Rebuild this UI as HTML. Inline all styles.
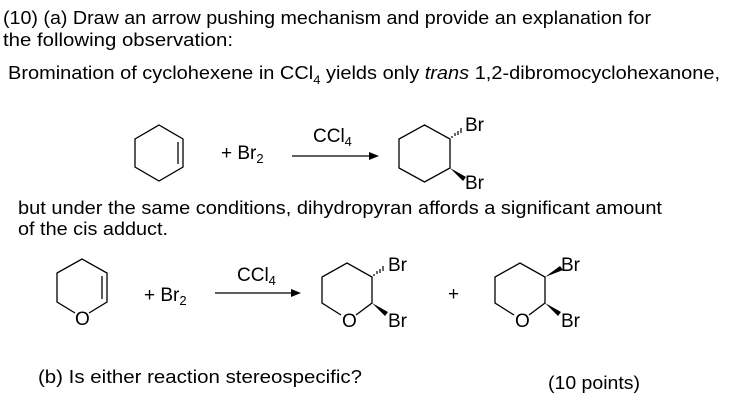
<!DOCTYPE html>
<html><head><meta charset="utf-8"><style>
body{margin:0;background:#fff;}
svg{display:block;}
text{font-family:"Liberation Sans",Arial,sans-serif;fill:#000;}
</style></head><body>
<svg width="735" height="407" viewBox="0 0 735 407" xmlns="http://www.w3.org/2000/svg">
<g font-size="18.5">
<text x="3" y="24" textLength="648" lengthAdjust="spacingAndGlyphs">(10) (a) Draw an arrow pushing mechanism and provide an explanation for</text>
<text x="3" y="46" textLength="230" lengthAdjust="spacingAndGlyphs">the following observation:</text>
<text x="8" y="79" textLength="712" lengthAdjust="spacingAndGlyphs">Bromination of cyclohexene in CCl<tspan font-size="12" dy="5">4</tspan><tspan dy="-5"> yields only </tspan><tspan font-style="italic">trans</tspan> 1,2-dibromocyclohexanone,</text>
<text x="18" y="214" textLength="644" lengthAdjust="spacingAndGlyphs">but under the same conditions, dihydropyran affords a significant amount</text>
<text x="18" y="235" textLength="150" lengthAdjust="spacingAndGlyphs">of the cis adduct.</text>
<text x="38" y="383" textLength="324" lengthAdjust="spacingAndGlyphs">(b)  Is either reaction stereospecific?</text>
<text x="548" y="389" textLength="92" lengthAdjust="spacingAndGlyphs">(10 points)</text>
</g>
<g stroke="#000" stroke-width="1.3" fill="none">
<polygon points="159,125 183,139 183,167 159,181 135,167 135,139"/>
<line x1="178" y1="142" x2="178" y2="164"/>
<line x1="292" y1="156" x2="370" y2="156"/>
<polygon points="424.5,125 450,139 450,168 424.5,182 399,168 399,139"/>
<polyline points="75,313 57,302 57,273 82,259 107,273 107,302 89,313"/>
<line x1="102" y1="276" x2="102" y2="299"/>
<line x1="215" y1="293" x2="291" y2="293"/>
<polyline points="341,315 322,303 322,277 347,263 372,277 372,303 356,315"/>
<polyline points="514,315 495,303 495,277 520,263 545,277 545,303 529,315"/>
</g>
<polygon points="369,152 379,156 369,160" fill="#000"/>
<polygon points="291,289 301,293 291,297" fill="#000"/>
<g stroke="#000" stroke-width="1.2">
<line x1="452" y1="138" x2="452" y2="136"/><line x1="455" y1="136" x2="455" y2="133"/><line x1="458" y1="135" x2="458" y2="131"/><line x1="461" y1="133" x2="461" y2="128"/>
<line x1="374" y1="276" x2="374" y2="274"/><line x1="377" y1="274" x2="377" y2="271"/><line x1="380" y1="273" x2="380" y2="269"/><line x1="383" y1="271" x2="383" y2="266"/>
</g>
<polygon points="450,168 466,177 463,181" fill="#000"/>
<polygon points="372,303 388,312 385,316" fill="#000"/>
<polygon points="545,277 560,266 563,270" fill="#000"/>
<polygon points="545,303 561,312 558,316" fill="#000"/>
<g font-size="19">
<text x="313" y="142">CCl<tspan font-size="13" dy="4">4</tspan></text>
<text x="221" y="159">+ Br<tspan font-size="13" dy="4">2</tspan></text>
<text x="465" y="131">Br</text>
<text x="465" y="189">Br</text>
<text x="75" y="325">O</text>
<text x="237" y="281">CCl<tspan font-size="13" dy="4">4</tspan></text>
<text x="144" y="301">+ Br<tspan font-size="13" dy="4">2</tspan></text>
<text x="342" y="327">O</text>
<text x="388" y="271">Br</text>
<text x="388" y="327">Br</text>
<text x="448" y="300">+</text>
<text x="515" y="327">O</text>
<text x="561" y="271">Br</text>
<text x="561" y="327">Br</text>
</g>
</svg>
</body></html>
